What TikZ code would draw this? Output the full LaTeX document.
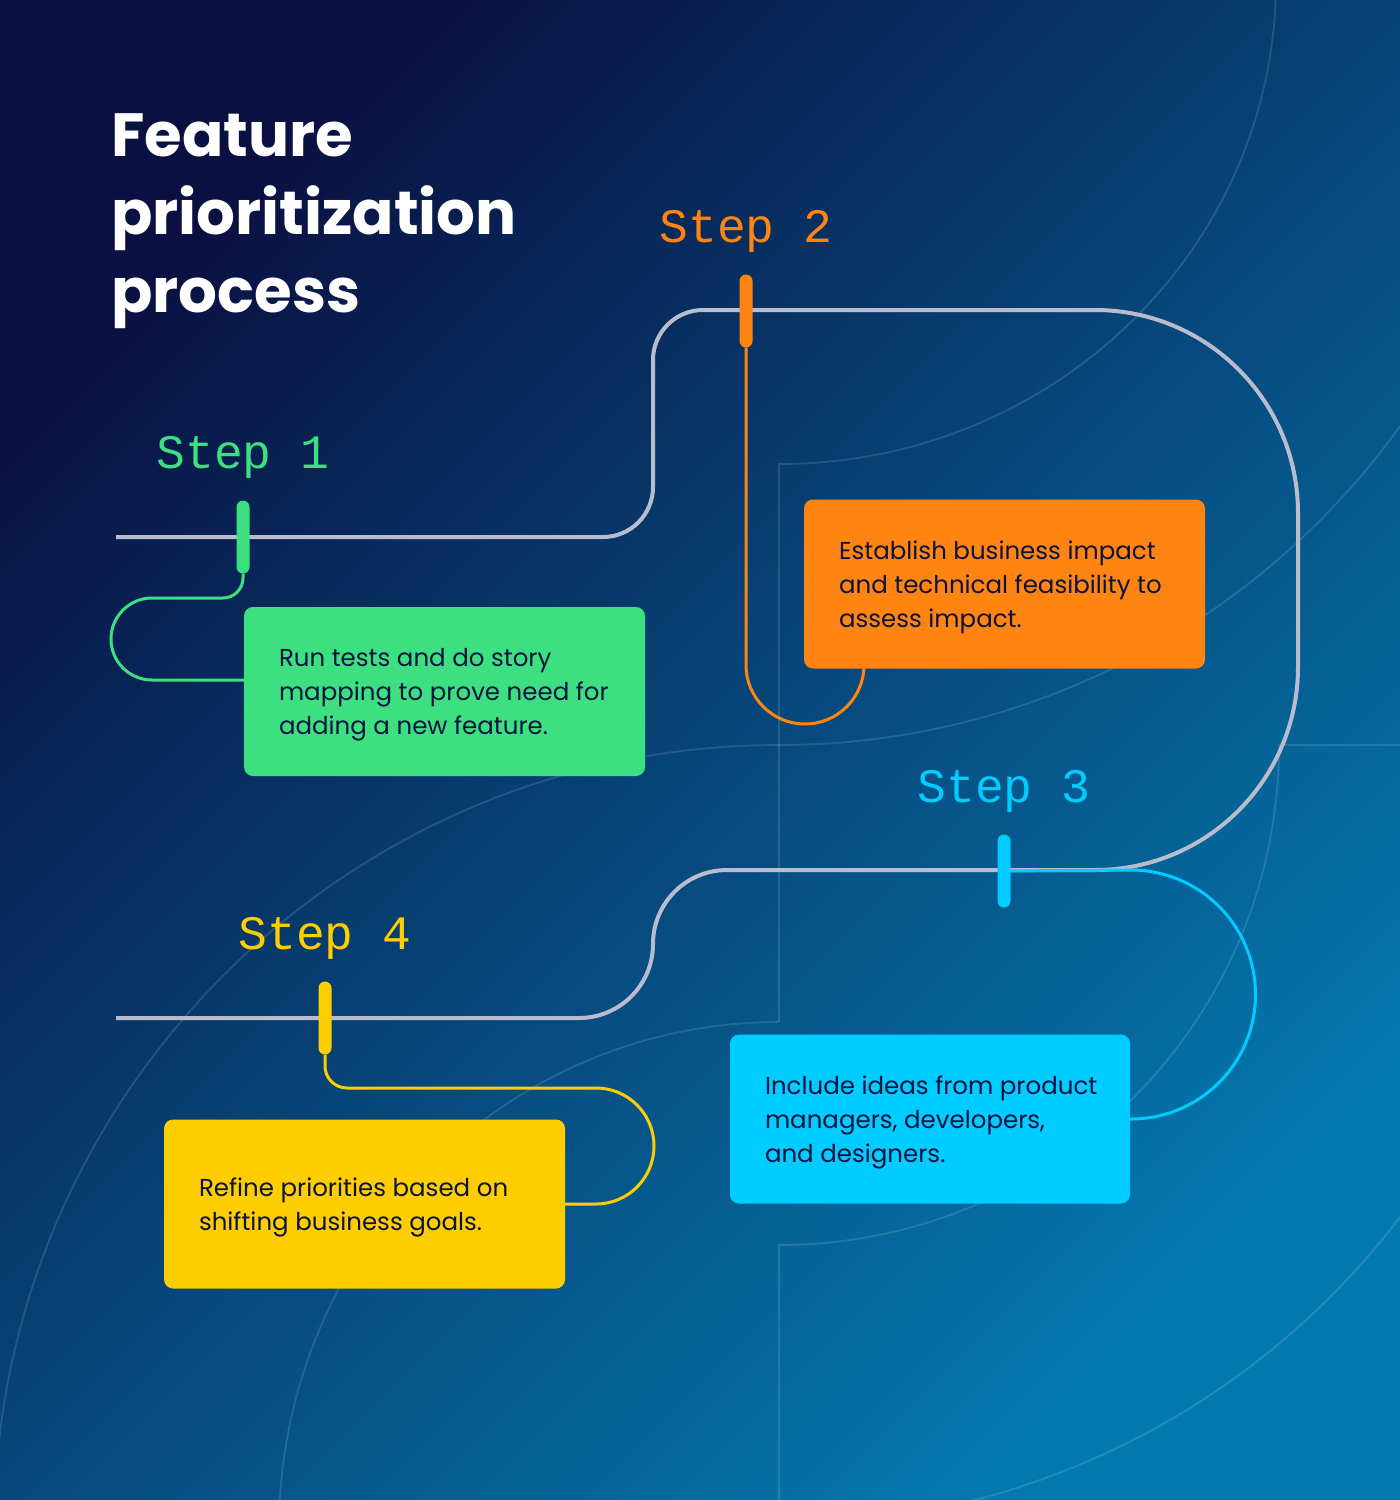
\documentclass[tikz,border=0pt]{standalone}
\usepackage{fontspec}
\setmainfont{Poppins}
\newfontfamily\stepfont{Liberation Mono}
\usetikzlibrary{positioning}

\definecolor{bgdark}{HTML}{0A1142}
\definecolor{bgmid}{HTML}{074A7E}
\definecolor{bglight}{HTML}{0479AF}
\definecolor{routegrey}{HTML}{B8BCCC}
\definecolor{stepgreen}{HTML}{3DE080}
\definecolor{steporange}{HTML}{FF8412}
\definecolor{stepblue}{HTML}{00CCFF}
\definecolor{stepyellow}{HTML}{FFCE00}
\definecolor{ink}{HTML}{0B1440}

\tikzset{
card/.style={rectangle, rounded corners=9pt, minimum width=401pt, minimum height=169pt, inner sep=0pt, fill=#1},
card text/.style={align=left, inner sep=0pt, text=ink, font=\fontsize{24.5}{34}\selectfont},
tick/.style={rectangle, rounded corners=6.5pt, minimum width=13pt, minimum height=73pt, inner sep=0pt, fill=#1},
step label/.style={text=#1, inner sep=0pt, anchor=base, font=\stepfont\fontsize{48}{48}\selectfont},
title/.style={align=left, inner sep=0pt, text=white, font=\fontsize{61}{78}\selectfont\bfseries},
route/.style={draw=routegrey, line width=4pt},
lead/.style={draw=#1, line width=3pt},
backdrop line/.style={draw=white, draw opacity=0.13, line width=1.8pt}
}

\begin{document}
\begin{tikzpicture}[x=1pt, y=1pt]
\useasboundingbox (0,0) rectangle (1400,-1500);

% Backdrop
\begin{scope}
\clip (0,0) rectangle (1400,-1500);
\shade[top color=bgdark, middle color=bgmid, bottom color=bglight, shading angle=45] (0,0) rectangle (1400,-1500);
\draw[backdrop line] (779,-1022) -- (779,-464) arc[start angle=270, end angle=360, x radius=497, y radius=483];
\draw[backdrop line] (779,-1022) arc[start angle=90, end angle=180, x radius=500, y radius=508];
\draw[backdrop line] (779,-745) arc[start angle=270, end angle=340, radius=764];
\draw[backdrop line] (779,-745) arc[start angle=90, end angle=180, radius=785];
\draw[backdrop line] (1400,-745) -- (1279,-745) arc[start angle=0, end angle=-90, radius=500] -- (779,-1500);
\draw[backdrop line] (779,-745) ++(10:780) arc[start angle=10, end angle=-90, radius=780];
\end{scope}

% Coordinates
\coordinate (route_start) at (116,-537);
\coordinate (route_end) at (116,-1018);
\coordinate (lead1_end) at (0,-680);
\coordinate (lead2_end) at (864,-665);

% Route
\draw[route] (route_start) -- (603,-537) arc[start angle=-90, end angle=0, radius=50]
  -- (653,-360) arc[start angle=180, end angle=90, radius=50]
  -- (1095,-310) arc[start angle=90, end angle=0, radius=203]
  -- (1298,-667) arc[start angle=0, end angle=-90, radius=203]
  -- (727,-870) arc[start angle=90, end angle=180, radius=74]
  arc[start angle=0, end angle=-90, radius=74] -- (route_end);

% Title
\node[title, anchor=north west] (title) at (111,-113) {Feature\\prioritization\\process};

% Boxes
\node[card=stepgreen] (step1_box) at (444.5,-691.5) {};
\node[card=steporange] (step2_box) at (1004.5,-584) {};
\node[card=stepblue, minimum width=400pt] (step3_box) at (930,-1119) {};
\node[card=stepyellow] (step4_box) at (364.5,-1204) {};

\node[card text, right=35pt of step1_box.west, yshift=-3pt] (step1_text) {Run tests and do story\\mapping to prove need for\\adding a new feature.};
\node[card text, right=35pt of step2_box.west, yshift=-3pt] (step2_text) {Establish business impact\\and technical feasibility to\\assess impact.};
\node[card text, right=35pt of step3_box.west, yshift=-3pt] (step3_text) {Include ideas from product\\managers, developers,\\and designers.};
\node[card text, right=35pt of step4_box.west, yshift=-3pt] (step4_text) {Refine priorities based on\\shifting business goals.};

% Ticks
\node[tick=stepgreen] (step1_tick) at (243,-537) {};
\node[tick=steporange] (step2_tick) at (746,-311) {};
\node[tick=stepblue] (step3_tick) at (1004,-871) {};
\node[tick=stepyellow] (step4_tick) at (325,-1018) {};

\node[step label=stepgreen] (step1_label) at ([yshift=32pt]step1_tick.north) {Step 1};
\node[step label=steporange] (step2_label) at ([yshift=32pt]step2_tick.north) {Step 2};
\node[step label=stepblue] (step3_label) at ([yshift=32pt]step3_tick.north) {Step 3};
\node[step label=stepyellow] (step4_label) at ([yshift=32pt]step4_tick.north) {Step 4};

% Leads
\draw[lead=stepgreen] (step1_tick.south) -- (243,-578) arc[start angle=0, end angle=-90, radius=20]
  -- (152,-598) arc[start angle=90, end angle=270, radius=41] -- (step1_box.west |- lead1_end);
\draw[lead=steporange] (step2_tick.south) -- (746,-665) arc[start angle=180, end angle=360, radius=59]
  -- (lead2_end |- step2_box.south);
\draw[lead=stepblue] (step3_tick.center) -- (1131,-870) arc[start angle=90, end angle=-90, radius=124.5]
  -- (step3_box.east);
\draw[lead=stepyellow] (step4_tick.south) -- (325,-1066) arc[start angle=180, end angle=270, radius=22]
  -- (596,-1088) arc[start angle=90, end angle=-90, radius=58] -- (step4_box.east);

\end{tikzpicture}
\end{document}
